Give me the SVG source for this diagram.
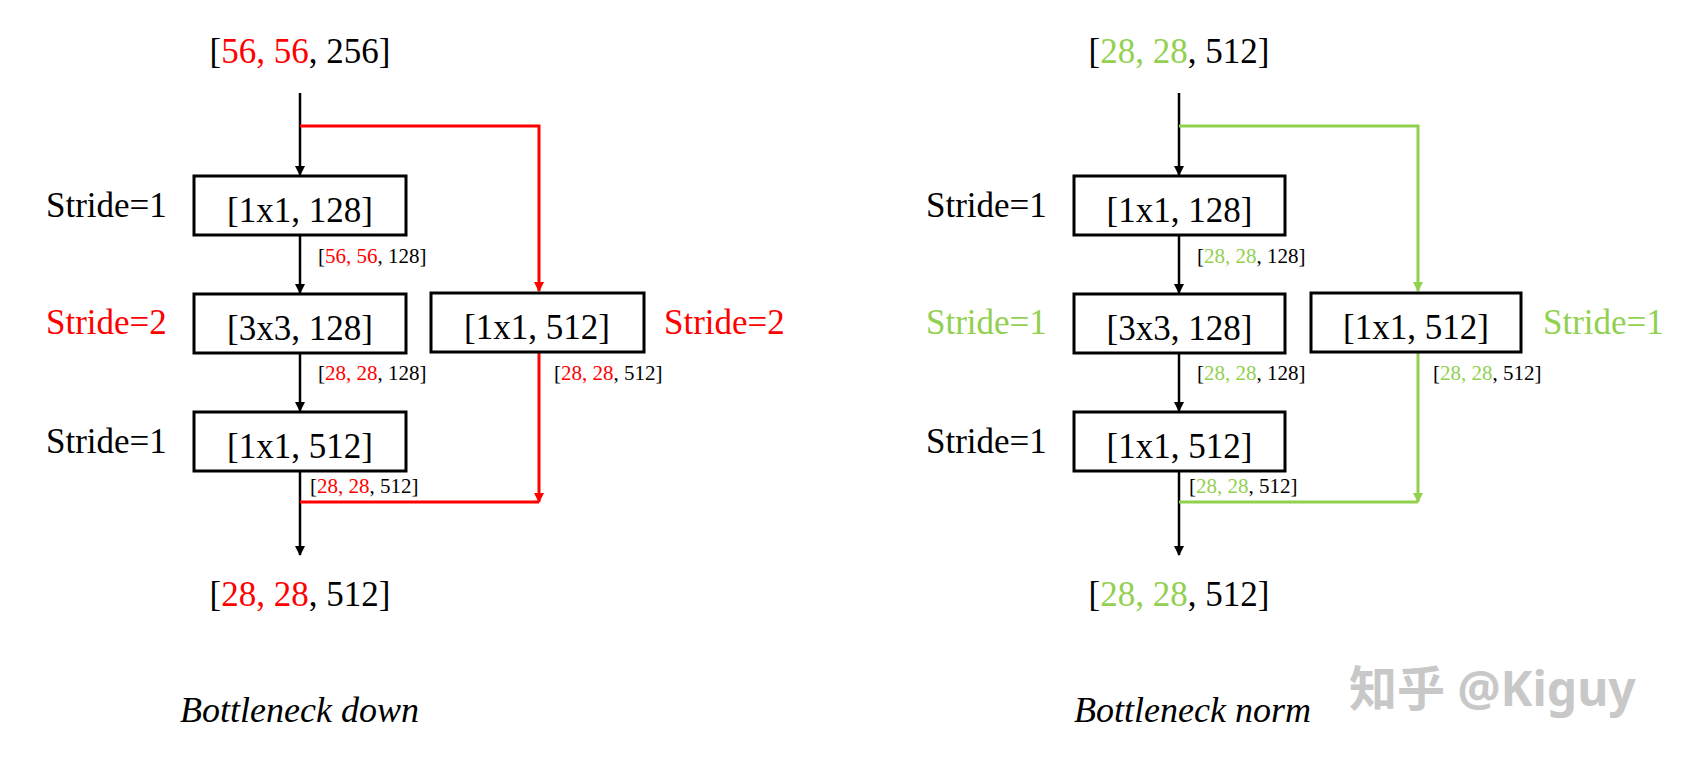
<svg xmlns="http://www.w3.org/2000/svg" width="1683" height="758" viewBox="0 0 1683 758">
<style>
text{font-family:"Liberation Serif","Times New Roman",serif;fill:#000}
.big{font-size:35px}
.sm{font-size:21px}
.r{fill:#FF0000}
.g{fill:#92D050}
.box{fill:#fff;stroke:#000;stroke-width:3}
.k{stroke:#000;stroke-width:2.5;fill:none}
.rl{stroke:#FF0000;stroke-width:3;fill:none}
.gl{stroke:#92D050;stroke-width:3;fill:none}
.it{font-size:36px;font-style:italic}
</style>
<defs>
<marker id="ak" markerWidth="10" markerHeight="12" refX="9" refY="5" orient="auto" markerUnits="userSpaceOnUse"><path d="M0,0 L10,5 L0,10z" fill="#000"/></marker>
<marker id="ar" markerWidth="10" markerHeight="12" refX="9" refY="5" orient="auto" markerUnits="userSpaceOnUse"><path d="M0,0 L10,5 L0,10z" fill="#FF0000"/></marker>
<marker id="ag" markerWidth="10" markerHeight="12" refX="9" refY="5" orient="auto" markerUnits="userSpaceOnUse"><path d="M0,0 L10,5 L0,10z" fill="#92D050"/></marker>
</defs>
<g id="connectors">
<path class="k" d="M300,93 V175" marker-end="url(#ak)"/>
<path class="k" d="M300,235 V293" marker-end="url(#ak)"/>
<path class="k" d="M300,353 V411" marker-end="url(#ak)"/>
<path class="k" d="M300,471 V555" marker-end="url(#ak)"/>
<path class="rl" d="M300,126 H539 V291" marker-end="url(#ar)"/>
<path class="rl" d="M539,352 V502" marker-end="url(#ar)"/>
<path class="rl" d="M300,502 H539"/>
<path class="k" d="M1179,93 V175" marker-end="url(#ak)"/>
<path class="k" d="M1179,235 V293" marker-end="url(#ak)"/>
<path class="k" d="M1179,353 V411" marker-end="url(#ak)"/>
<path class="k" d="M1179,471 V555" marker-end="url(#ak)"/>
<path class="gl" d="M1179,126 H1418 V291" marker-end="url(#ag)"/>
<path class="gl" d="M1418,352 V502" marker-end="url(#ag)"/>
<path class="gl" d="M1179,502 H1418"/>
</g>
<g id="left-top"><text class="big" x="300" y="63" text-anchor="middle">[<tspan class="r">56, 56</tspan>, 256]</text></g>
<g id="left-b1"><rect class="box" x="194" y="176" width="212" height="59"/><text class="big" x="300" y="222" text-anchor="middle">[1x1, 128]</text></g>
<g id="left-b2"><rect class="box" x="194" y="294" width="212" height="59"/><text class="big" x="300" y="340" text-anchor="middle">[3x3, 128]</text></g>
<g id="left-b3"><rect class="box" x="194" y="412" width="212" height="59"/><text class="big" x="300" y="458" text-anchor="middle">[1x1, 512]</text></g>
<g id="left-sc"><rect class="box" x="431" y="293" width="213" height="59"/><text class="big" x="537" y="339" text-anchor="middle">[1x1, 512]</text></g>
<g id="left-labels">
<text class="big" x="46" y="217">Stride=1</text>
<text class="big r" x="46" y="334">Stride=2</text>
<text class="big" x="46" y="453">Stride=1</text>
<text class="big r" x="664" y="334">Stride=2</text>
<text class="sm" x="318" y="263">[<tspan class="r">56, 56</tspan>, 128]</text>
<text class="sm" x="318" y="380">[<tspan class="r">28, 28</tspan>, 128]</text>
<text class="sm" x="554" y="380">[<tspan class="r">28, 28</tspan>, 512]</text>
<text class="sm" x="310" y="493">[<tspan class="r">28, 28</tspan>, 512]</text>
<text class="big" x="300" y="606" text-anchor="middle">[<tspan class="r">28, 28</tspan>, 512]</text>
<text class="it" x="180" y="722">Bottleneck down</text>
</g>
<g id="right-top"><text class="big" x="1179" y="63" text-anchor="middle">[<tspan class="g">28, 28</tspan>, 512]</text></g>
<g id="right-b1"><rect class="box" x="1074" y="176" width="211" height="59"/><text class="big" x="1179.5" y="222" text-anchor="middle">[1x1, 128]</text></g>
<g id="right-b2"><rect class="box" x="1074" y="294" width="211" height="59"/><text class="big" x="1179.5" y="340" text-anchor="middle">[3x3, 128]</text></g>
<g id="right-b3"><rect class="box" x="1074" y="412" width="211" height="59"/><text class="big" x="1179.5" y="458" text-anchor="middle">[1x1, 512]</text></g>
<g id="right-sc"><rect class="box" x="1311" y="293" width="210" height="59"/><text class="big" x="1416" y="339" text-anchor="middle">[1x1, 512]</text></g>
<g id="right-labels">
<text class="big" x="926" y="217">Stride=1</text>
<text class="big g" x="926" y="334">Stride=1</text>
<text class="big" x="926" y="453">Stride=1</text>
<text class="big g" x="1543" y="334">Stride=1</text>
<text class="sm" x="1197" y="263">[<tspan class="g">28, 28</tspan>, 128]</text>
<text class="sm" x="1197" y="380">[<tspan class="g">28, 28</tspan>, 128]</text>
<text class="sm" x="1433" y="380">[<tspan class="g">28, 28</tspan>, 512]</text>
<text class="sm" x="1189" y="493">[<tspan class="g">28, 28</tspan>, 512]</text>
<text class="big" x="1179" y="606" text-anchor="middle">[<tspan class="g">28, 28</tspan>, 512]</text>
<text class="it" x="1074" y="722">Bottleneck norm</text>
</g>
<text x="1349" y="706" style="font-family:'Noto Sans','Noto Sans CJK SC',sans-serif;font-size:48px;font-weight:bold;fill:#bbbbbb;opacity:0.8">知乎 @Kiguy</text>
</svg>
